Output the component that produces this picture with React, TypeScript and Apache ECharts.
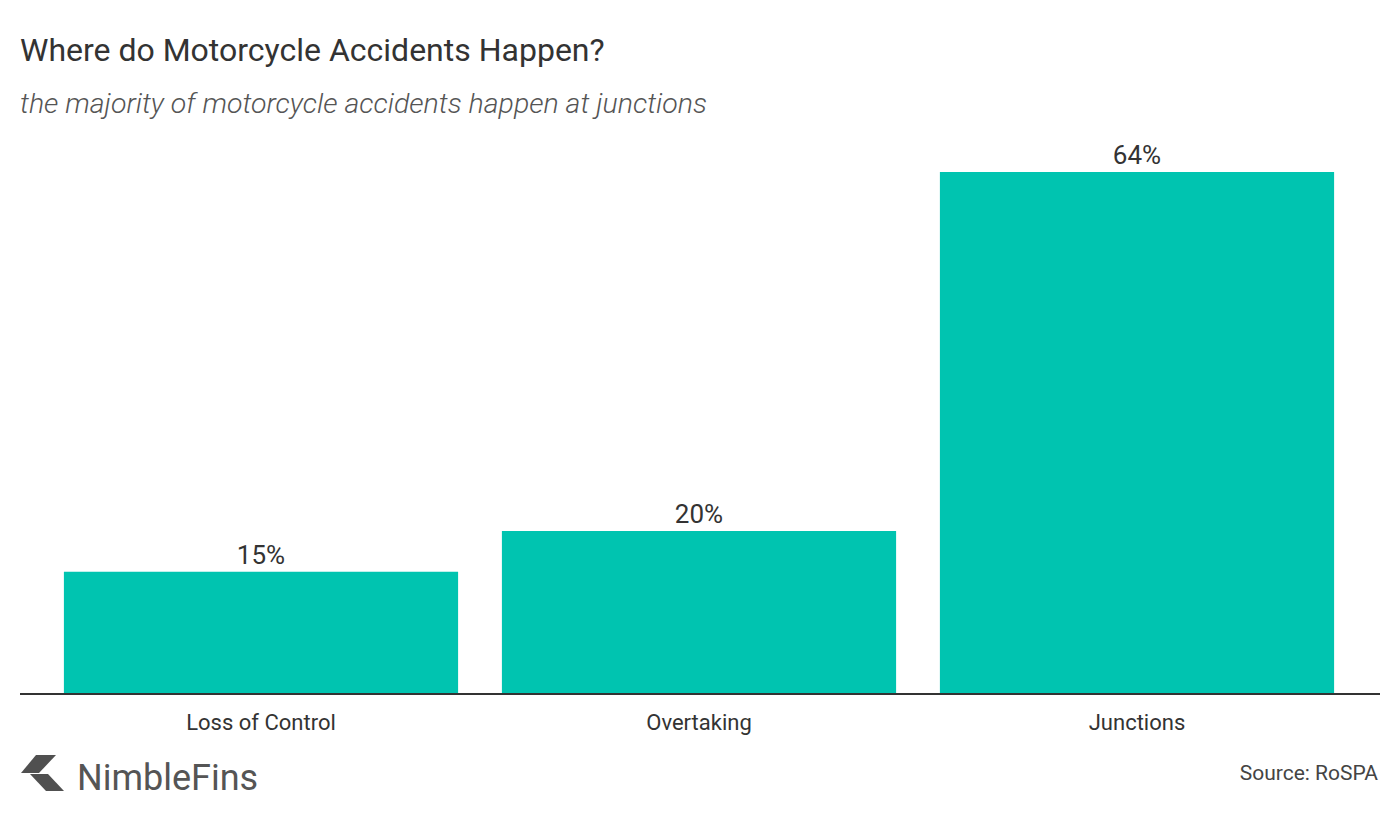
import React, { useEffect, useRef } from "react";
import * as echarts from "echarts";

const categories = ["Loss of Control", "Overtaking", "Junctions"];
const values = [15, 20, 64];

const FONT = "Roboto, 'Noto Sans', sans-serif";

export default function App() {
  const ref = useRef<HTMLDivElement>(null);
  useEffect(() => {
    if (!ref.current) return;
    const chart = echarts.init(ref.current, undefined, { renderer: "svg" });
    chart.setOption({
      animation: false,
      backgroundColor: "#ffffff",
      grid: { left: 42, right: 44, top: 172, bottom: 128 },
      xAxis: {
        type: "category",
        data: categories,
        axisLine: { show: false },
        axisTick: { show: false },
        axisLabel: { fontSize: 22, color: "#333333", fontFamily: FONT, margin: 17 },
      },
      yAxis: {
        type: "value",
        min: 0,
        max: 64,
        show: false,
        splitLine: { show: false },
      },
      series: [
        {
          type: "bar",
          data: values,
          barCategoryGap: "10%",
          itemStyle: { color: "#00c4b0" },
          label: {
            show: true,
            position: "top",
            formatter: "{c}%",
            fontSize: 26,
            color: "#333333",
            fontFamily: FONT,
            distance: 4,
          },
        },
      ],
      graphic: [
        {
          type: "line",
          shape: { x1: 20, y1: 694, x2: 1380, y2: 694 },
          style: { stroke: "#333333", lineWidth: 2 },
          z: 10,
        },
        {
          type: "text",
          x: 20,
          y: 50,
          style: {
            text: "Where do Motorcycle Accidents Happen?",
            fontSize: 32,
            fontFamily: FONT,
            fill: "#333333",
            verticalAlign: "middle",
          },
        },
        {
          type: "text",
          x: 20,
          y: 103,
          style: {
            text: "the majority of motorcycle accidents happen at junctions",
            fontSize: 28.5,
            fontStyle: "italic",
            fontWeight: 300,
            fontFamily: FONT,
            fill: "#555555",
            verticalAlign: "middle",
          },
        },
        {
          type: "polygon",
          shape: { points: [[36, 755], [56, 755], [39, 773], [21, 773]] },
          style: { fill: "#505050" },
        },
        {
          type: "polygon",
          shape: { points: [[30, 774], [48, 774], [64, 791], [46, 791]] },
          style: { fill: "#505050" },
        },
        {
          type: "text",
          x: 77,
          y: 778,
          style: {
            text: "NimbleFins",
            fontSize: 36,
            fontFamily: FONT,
            fill: "#555555",
            verticalAlign: "middle",
          },
        },
        {
          type: "text",
          x: 1378,
          y: 773,
          style: {
            text: "Source: RoSPA",
            fontSize: 21,
            fontFamily: FONT,
            fill: "#444444",
            align: "right",
            verticalAlign: "middle",
          },
        },
      ],
    });
    return () => chart.dispose();
  }, []);
  return (
    <div
      ref={ref}
      style={{ position: "fixed", left: 0, top: 0, width: 1400, height: 822 }}
    />
  );
}
